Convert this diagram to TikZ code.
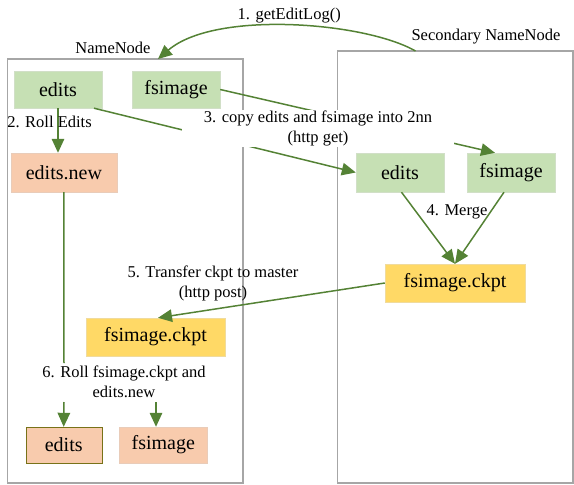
\documentclass[tikz,border=0pt]{standalone}
\usepackage{fontspec}
\setmainfont{Liberation Serif}
\usetikzlibrary{arrows.meta}
\definecolor{boxgreen}{HTML}{C6E0B4}
\definecolor{boxsalmon}{HTML}{F8CBAD}
\definecolor{boxyellow}{HTML}{FFD966}
\definecolor{flowgreen}{HTML}{548235}
\definecolor{framegray}{HTML}{A6A6A6}
\begin{document}
\begin{tikzpicture}[x=1pt, y=-1pt,
container/.style={rectangle, draw=framegray, line width=1.5pt, inner sep=0pt},
oldfile/.style={rectangle, draw=boxgreen!90!black!60, fill=boxgreen, inner sep=0pt, font=\fontsize{20}{24}\selectfont},
newfile/.style={rectangle, draw=boxsalmon!90!black!70, fill=boxsalmon, inner sep=0pt, font=\fontsize{20}{24}\selectfont},
ckpt/.style={rectangle, draw=boxyellow!90!black!60, fill=boxyellow, inner sep=0pt, font=\fontsize{20}{24}\selectfont},
lbl/.style={inner sep=0pt, align=center, font=\fontsize{16.5}{20}\selectfont},
flow/.style={draw=flowgreen, line width=1.5pt, -{Triangle[length=14pt, width=12.5pt]}},
]
\useasboundingbox (0,0) rectangle (574,485);
\node[container, minimum width=235.7pt, minimum height=424pt] (NN) at (125.2,271) {};
\node[container, minimum width=235.5pt, minimum height=432pt] (SNN) at (455.2,267) {};
\node[lbl] (NNt) at (113,48) {NameNode};
\node[lbl] (SNNt) at (486,37) {Secondary NameNode};
\node[oldfile, minimum width=87.6pt, minimum height=37pt] (E) at (58,89.5) {edits};
\node[oldfile, minimum width=88pt, minimum height=37pt] (F) at (176,89.5) {fsimage};
\node[newfile, minimum width=105.7pt, minimum height=39pt] (EN) at (63.9,172.5) {edits.new};
\node[oldfile, minimum width=88pt, minimum height=39pt] (E2) at (400,172.5) {edits};
\node[oldfile, minimum width=88pt, minimum height=39pt] (F2) at (511,172.5) {fsimage};
\node[ckpt, minimum width=140pt, minimum height=38pt] (C2) at (455,283) {fsimage.ckpt};
\node[ckpt, minimum width=139pt, minimum height=38pt] (C) at (155.5,337) {fsimage.ckpt};
\node[newfile, draw=olive!80!black, minimum width=76pt, minimum height=36pt] (E3) at (63.7,445) {edits};
\node[newfile, minimum width=87.4pt, minimum height=36pt] (F3) at (163.3,445) {fsimage};
\coordinate (getfrom) at (415.5,51);
\coordinate (getto) at (158,59);
\coordinate (rollend) at (64,363);
\coordinate (rolle) at (64,402);
\coordinate (rollf) at (156,402);
\draw[flow] (getfrom) .. controls (365,22) and (215,10) .. (getto)
  node[lbl, pos=0.5, above=2pt] (getlbl) {1. getEditLog()};
\draw[flow] (E) -- (E |- EN.north);
\node[lbl] (rolllbl) at (49.5,122) {2. Roll Edits};
\draw[flow] ([xshift=-8pt]E.south east) -- (E2.west);
\draw[flow] (F.east) -- ([xshift=-16pt]F2.north);
\node[lbl, fill=white, inner xsep=22pt, inner ysep=1pt] (copylbl) at (318,128.5) {3. copy edits and fsimage into 2nn\\(http get)};
\draw[flow] ([xshift=1.5pt]E2.south) -- (C2.north);
\draw[flow] ([xshift=-7pt]F2.south) -- (C2.north);
\node[lbl] (mergelbl) at (457,212) {4. Merge};
\draw[flow] (C2.west) -- ([xshift=2.5pt]C.north);
\node[lbl] (xferlbl) at (213,283) {5. Transfer ckpt to master\\(http post)};
\draw[flowgreen, line width=1.5pt] (EN.south) -- (rollend);
\node[lbl] (roll6lbl) at (124,381.5) {6. Roll fsimage.ckpt and\\edits.new};
\draw[flow] (rolle) -- (E3.north);
\draw[flow] (rollf) -- ([xshift=-7.3pt]F3.north);
\end{tikzpicture}
\end{document}
